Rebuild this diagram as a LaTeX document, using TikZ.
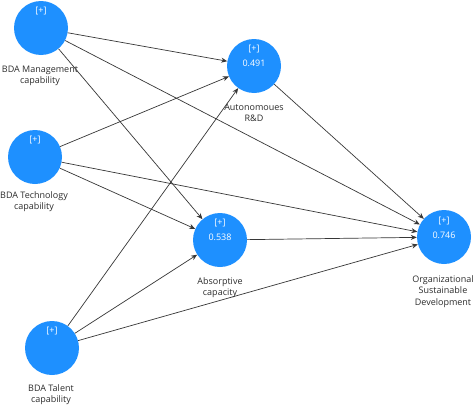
\documentclass[tikz,border=0pt]{standalone}
\usepackage{fontspec}
\setmainfont{Open Sans}
\usetikzlibrary{arrows.meta}
\definecolor{lvblue}{RGB}{30,144,255}
\definecolor{edgegray}{RGB}{55,55,55}
\definecolor{lblgray}{RGB}{45,45,45}
\begin{document}
\begin{tikzpicture}[x=1pt,y=-1pt,
  lv/.style={circle,fill=lvblue,minimum size=54pt,inner sep=0pt},
  tag/.style={text=white,inner sep=0pt,font=\fontsize{9}{10}\selectfont},
  lbl/.style={text=lblgray,inner sep=0pt,align=center,font=\fontsize{9}{11.5}\selectfont},
  rel/.style={draw=edgegray,line width=0.7pt,-{Stealth[length=6pt,width=5pt]}}]
\useasboundingbox[fill=white] (0,0) rectangle (474,407);
% latent variables
\node[lv] (M) at (41,28) {};
\node[lv] (T) at (35,157) {};
\node[lv] (L) at (52,348) {};
\node[lv] (R) at (254,66) {};
\node[lv] (A) at (220,240) {};
\node[lv] (O) at (444,237) {};
% inner texts
\node[tag] (Mp) at (41,11) {[+]};
\node[tag] (Tp) at (35,140) {[+]};
\node[tag] (Lp) at (52,331) {[+]};
\node[tag] (Rp) at (254,49) {[+]};
\node[tag] (Rv) at (254,63) {0.491};
\node[tag] (Ap) at (220,223) {[+]};
\node[tag] (Av) at (220,237) {0.538};
\node[tag] (Op) at (444,221) {[+]};
\node[tag] (Ov) at (444,235) {0.746};
% labels
\node[lbl] (Ml) at (40,76) {BDA Management\\capability};
\node[lbl] (Tl) at (34,201.5) {BDA Technology\\capability};
\node[lbl] (Ll) at (51,394.5) {BDA Talent\\capability};
\node[lbl] (Rl) at (254,113) {Autonomoues\\R\&D};
\node[lbl] (Al) at (220,287.5) {Absorptive\\capacity};
\node[lbl] (Ol) at (443,291.5) {Organizational\\Sustainable\\Development};
% paths
\draw[rel] (M) -- (R);
\draw[rel] (M) -- (A);
\draw[rel] (M) -- (O);
\draw[rel] (T) -- (R);
\draw[rel] (T) -- (A);
\draw[rel] (T) -- (O);
\draw[rel] (L) -- (R);
\draw[rel] (L) -- (A);
\draw[rel] (L) -- (O);
\draw[rel] (R) -- (O);
\draw[rel] (A) -- (O);
\end{tikzpicture}
\end{document}
